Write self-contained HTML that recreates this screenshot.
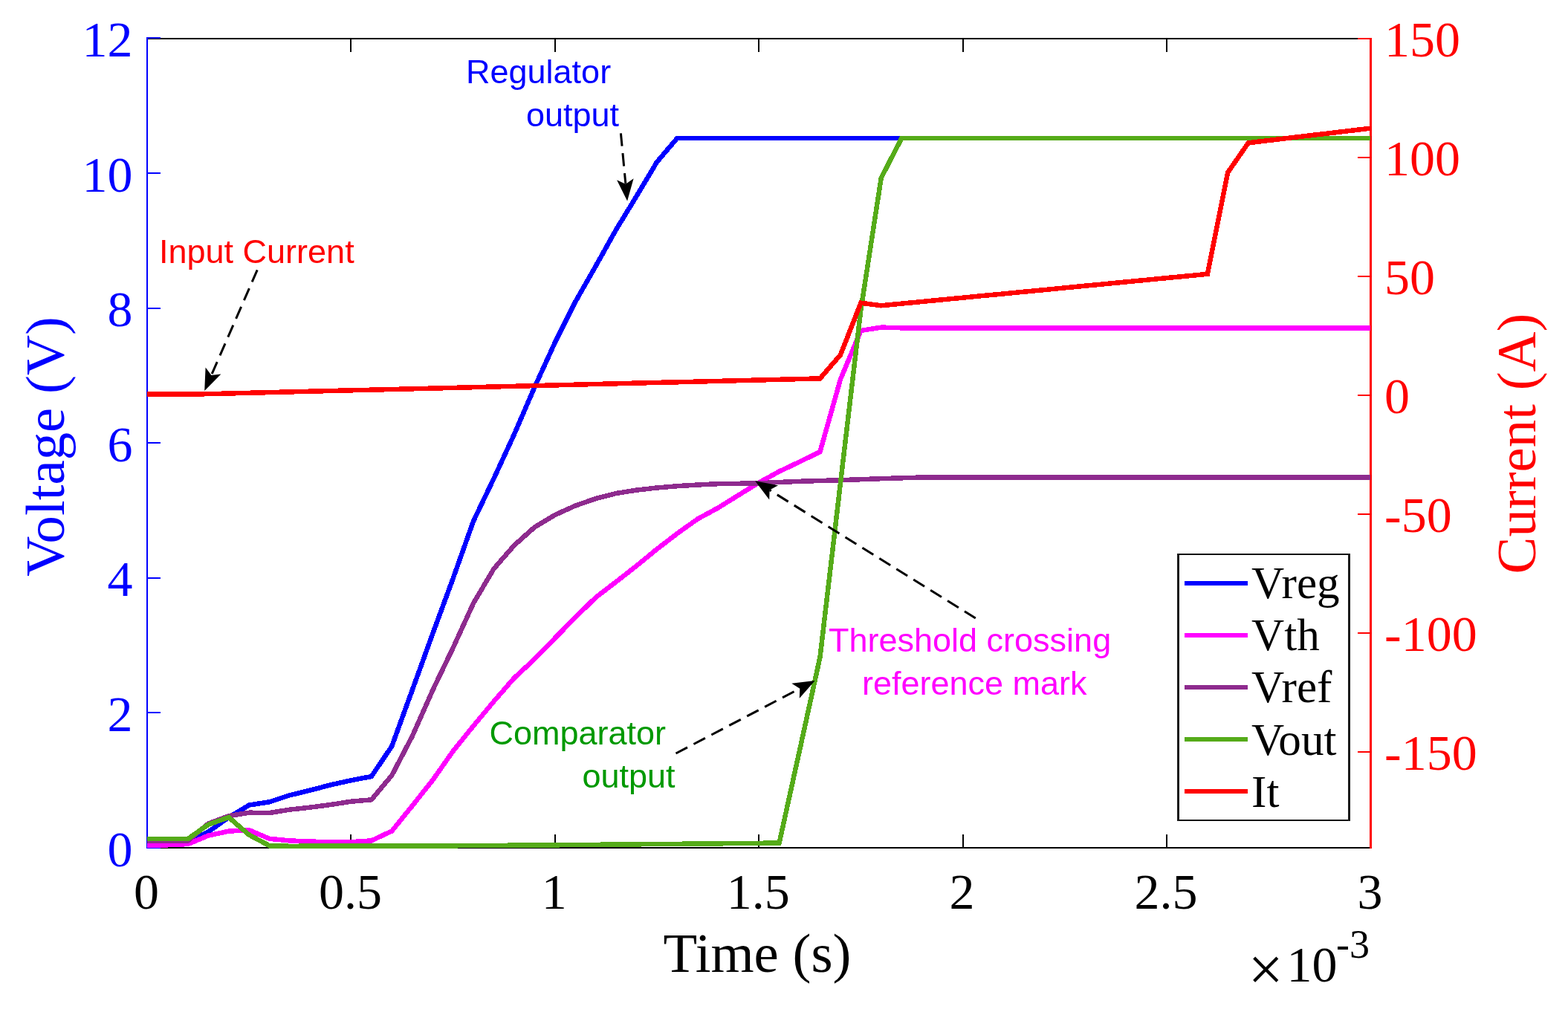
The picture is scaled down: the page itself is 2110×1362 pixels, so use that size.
<!DOCTYPE html><html><head><meta charset="utf-8"><style>html,body{margin:0;padding:0;background:#fff}svg{display:block}</style></head><body><svg width="2110" height="1362" viewBox="0 0 2110 1362">
<rect width="2110" height="1362" fill="#fff"/>
<defs><clipPath id="c"><rect x="198" y="51" width="1647" height="1091"/></clipPath></defs>
<g shape-rendering="crispEdges">
<rect x="197" y="51" width="1648" height="2" fill="#000"/>
<rect x="197" y="1140" width="1648" height="2" fill="#000"/>
<rect x="471.4" y="1123" width="2" height="17" fill="#000"/>
<rect x="471.4" y="53" width="2" height="17" fill="#000"/>
<rect x="745.8" y="1123" width="2" height="17" fill="#000"/>
<rect x="745.8" y="53" width="2" height="17" fill="#000"/>
<rect x="1020.2" y="1123" width="2" height="17" fill="#000"/>
<rect x="1020.2" y="53" width="2" height="17" fill="#000"/>
<rect x="1294.6" y="1123" width="2" height="17" fill="#000"/>
<rect x="1294.6" y="53" width="2" height="17" fill="#000"/>
<rect x="1569.0" y="1123" width="2" height="17" fill="#000"/>
<rect x="1569.0" y="53" width="2" height="17" fill="#000"/>
<rect x="197" y="51" width="2" height="1091" fill="#0000ff"/>
<rect x="197" y="1140.0" width="19" height="2" fill="#0000ff"/>
<rect x="197" y="958.4" width="19" height="2" fill="#0000ff"/>
<rect x="197" y="776.8" width="19" height="2" fill="#0000ff"/>
<rect x="197" y="595.2" width="19" height="2" fill="#0000ff"/>
<rect x="197" y="413.6" width="19" height="2" fill="#0000ff"/>
<rect x="197" y="232.0" width="19" height="2" fill="#0000ff"/>
<rect x="197" y="50.4" width="19" height="2" fill="#0000ff"/>
</g>
<g shape-rendering="crispEdges">
<rect x="1843" y="51" width="3" height="1091" fill="#ff0000"/>
<rect x="1827" y="1011.0" width="17" height="2" fill="#ff0000"/>
<rect x="1827" y="851.0" width="17" height="2" fill="#ff0000"/>
<rect x="1827" y="691.0" width="17" height="2" fill="#ff0000"/>
<rect x="1827" y="531.0" width="17" height="2" fill="#ff0000"/>
<rect x="1827" y="371.0" width="17" height="2" fill="#ff0000"/>
<rect x="1827" y="211.0" width="17" height="2" fill="#ff0000"/>
<rect x="1827" y="51.0" width="17" height="2" fill="#ff0000"/>
<rect x="1827" y="51" width="17" height="2" fill="#ff0000"/>
</g>
<g clip-path="url(#c)" fill="none" stroke-width="6.5" stroke-linejoin="miter" stroke-miterlimit="10" shape-rendering="crispEdges">
<polyline stroke="#0000ff" points="198.0,1137.0 225.4,1137.0 252.9,1132.5 280.3,1119.6 307.8,1100.0 335.2,1083.5 362.6,1079.3 390.1,1070.2 417.5,1063.6 445.0,1056.3 472.4,1050.3 499.8,1045.0 527.3,1004.3 554.7,929.0 582.2,853.0 609.6,778.6 637.0,701.5 664.5,644.0 691.9,584.7 719.4,521.0 746.8,461.0 774.2,406.3 801.7,358.0 829.1,309.0 856.6,264.0 884.0,218.0 911.4,185.8 938.9,185.8 966.3,185.8 993.8,185.8 1021.2,185.8 1048.6,185.8 1076.1,185.8 1103.5,185.8 1131.0,185.8 1158.4,185.8 1185.8,185.8 1213.3,185.8 1240.7,185.8 1268.2,185.8 1295.6,185.8 1323.0,185.8 1350.5,185.8 1377.9,185.8 1405.4,185.8 1432.8,185.8 1460.2,185.8 1487.7,185.8 1515.1,185.8 1542.6,185.8 1570.0,185.8 1597.4,185.8 1624.9,185.8 1652.3,185.8 1679.8,185.8 1707.2,185.8 1734.6,185.8 1762.1,185.8 1789.5,185.8 1817.0,185.8 1844.4,185.8"/>
<polyline stroke="#ff00ff" points="198.0,1137.3 225.4,1137.3 252.9,1136.0 280.3,1124.6 307.8,1118.6 335.2,1117.2 362.6,1128.8 390.1,1131.4 417.5,1132.6 445.0,1133.2 472.4,1133.2 499.8,1131.4 527.3,1118.5 554.7,1084.6 582.2,1050.0 609.6,1011.0 637.0,977.0 664.5,944.0 691.9,912.5 719.4,887.0 746.8,858.8 774.2,831.0 801.7,804.0 829.1,783.0 856.6,761.5 884.0,739.0 911.4,718.0 938.9,698.4 966.3,683.5 993.8,666.4 1021.2,649.5 1048.6,634.5 1076.1,621.5 1103.5,608.0 1131.0,510.4 1158.4,445.0 1185.8,440.6 1213.3,441.3 1240.7,441.3 1268.2,441.3 1295.6,441.3 1323.0,441.3 1350.5,441.3 1377.9,441.4 1405.4,441.4 1432.8,441.4 1460.2,441.4 1487.7,441.4 1515.1,441.4 1542.6,441.4 1570.0,441.4 1597.4,441.4 1624.9,441.4 1652.3,441.4 1679.8,441.4 1707.2,441.5 1734.6,441.5 1762.1,441.5 1789.5,441.5 1817.0,441.5 1844.4,441.5"/>
<polyline stroke="#8e2b8e" points="198.0,1131.7 225.4,1131.7 252.9,1131.5 280.3,1108.5 307.8,1098.2 335.2,1093.7 362.6,1094.0 390.1,1089.6 417.5,1086.6 445.0,1083.0 472.4,1078.7 499.8,1076.3 527.3,1043.5 554.7,991.0 582.2,929.0 609.6,872.0 637.0,812.0 664.5,765.5 691.9,734.0 719.4,709.5 746.8,693.0 774.2,680.6 801.7,671.0 829.1,664.0 856.6,659.6 884.0,656.5 911.4,654.2 938.9,652.5 966.3,651.2 993.8,650.8 1021.2,650.3 1048.6,649.0 1076.1,647.8 1103.5,647.0 1131.0,646.2 1158.4,645.2 1185.8,644.2 1213.3,643.3 1240.7,642.5 1268.2,642.5 1295.6,642.5 1323.0,642.5 1350.5,642.5 1377.9,642.5 1405.4,642.5 1432.8,642.5 1460.2,642.5 1487.7,642.5 1515.1,642.5 1542.6,642.5 1570.0,642.4 1597.4,642.4 1624.9,642.4 1652.3,642.4 1679.8,642.4 1707.2,642.4 1734.6,642.4 1762.1,642.4 1789.5,642.4 1817.0,642.4 1844.4,642.4"/>
<polyline stroke="#55ab19" points="198.0,1129.0 225.4,1129.0 252.9,1129.0 280.3,1109.7 307.8,1100.0 335.2,1123.6 362.6,1138.3 390.1,1138.8 417.5,1138.7 445.0,1138.7 472.4,1138.6 499.8,1138.5 527.3,1138.5 554.7,1138.4 582.2,1138.4 609.6,1138.3 637.0,1138.1 664.5,1137.9 691.9,1137.7 719.4,1137.5 746.8,1137.3 774.2,1137.1 801.7,1136.8 829.1,1136.6 856.6,1136.3 884.0,1136.1 911.4,1135.8 938.9,1135.6 966.3,1135.3 993.8,1135.1 1021.2,1134.8 1048.6,1134.6 1076.1,1009.5 1103.5,884.4 1131.0,650.0 1158.4,417.0 1185.8,239.3 1213.3,186.0 1240.7,186.0 1268.2,186.0 1295.6,186.0 1323.0,186.0 1350.5,186.0 1377.9,186.0 1405.4,186.0 1432.8,186.0 1460.2,186.0 1487.7,186.0 1515.1,186.0 1542.6,186.0 1570.0,186.0 1597.4,186.0 1624.9,186.0 1652.3,186.0 1679.8,186.0 1707.2,186.0 1734.6,186.0 1762.1,186.0 1789.5,186.0 1817.0,186.0 1844.4,186.0"/>
</g>
<g clip-path="url(#c)" fill="none" stroke-width="6.5" shape-rendering="crispEdges"><polyline stroke="#ff0000" points="198.0,530.6 225.4,530.5 252.9,530.5 280.3,530.2 307.8,529.5 335.2,528.8 362.6,528.1 390.1,527.4 417.5,526.7 445.0,526.0 472.4,525.3 499.8,524.7 527.3,524.0 554.7,523.3 582.2,522.6 609.6,521.9 637.0,521.2 664.5,520.5 691.9,519.8 719.4,519.1 746.8,518.4 774.2,517.7 801.7,517.0 829.1,516.3 856.6,515.6 884.0,514.9 911.4,514.3 938.9,513.6 966.3,512.9 993.8,512.2 1021.2,511.5 1048.6,510.8 1076.1,510.1 1103.5,509.4 1131.0,477.5 1158.4,407.7 1185.8,411.3 1213.3,408.6 1240.7,406.0 1268.2,403.3 1295.6,400.7 1323.0,398.0 1350.5,395.4 1377.9,392.7 1405.4,390.1 1432.8,387.4 1460.2,384.7 1487.7,382.1 1515.1,379.4 1542.6,376.8 1570.0,374.1 1597.4,371.5 1624.9,368.8 1652.3,232.0 1679.8,192.3 1707.2,189.0 1734.6,185.7 1762.1,182.4 1789.5,179.2 1817.0,175.9 1844.4,172.6"/></g>
<text id="yl0" font-family="Liberation Serif, Times New Roman, serif" font-size="68" fill="#0000ff" text-anchor="end" x="178.50" y="1165.50">0</text>
<text id="yl2" font-family="Liberation Serif, Times New Roman, serif" font-size="68" fill="#0000ff" text-anchor="end" x="178.50" y="983.90">2</text>
<text id="yl4" font-family="Liberation Serif, Times New Roman, serif" font-size="68" fill="#0000ff" text-anchor="end" x="178.50" y="802.30">4</text>
<text id="yl6" font-family="Liberation Serif, Times New Roman, serif" font-size="68" fill="#0000ff" text-anchor="end" x="178.50" y="620.70">6</text>
<text id="yl8" font-family="Liberation Serif, Times New Roman, serif" font-size="68" fill="#0000ff" text-anchor="end" x="178.50" y="439.10">8</text>
<text id="yl10" font-family="Liberation Serif, Times New Roman, serif" font-size="68" fill="#0000ff" text-anchor="end" x="178.50" y="257.50">10</text>
<text id="yl12" font-family="Liberation Serif, Times New Roman, serif" font-size="68" fill="#0000ff" text-anchor="end" x="178.50" y="75.90">12</text>
<text id="yr-150" font-family="Liberation Serif, Times New Roman, serif" font-size="68" fill="#ff0000" text-anchor="start" x="1863.00" y="1036.00">-150</text>
<text id="yr-100" font-family="Liberation Serif, Times New Roman, serif" font-size="68" fill="#ff0000" text-anchor="start" x="1863.00" y="876.00">-100</text>
<text id="yr-50" font-family="Liberation Serif, Times New Roman, serif" font-size="68" fill="#ff0000" text-anchor="start" x="1863.00" y="716.00">-50</text>
<text id="yr0" font-family="Liberation Serif, Times New Roman, serif" font-size="68" fill="#ff0000" text-anchor="start" x="1863.00" y="556.00">0</text>
<text id="yr50" font-family="Liberation Serif, Times New Roman, serif" font-size="68" fill="#ff0000" text-anchor="start" x="1863.00" y="396.00">50</text>
<text id="yr100" font-family="Liberation Serif, Times New Roman, serif" font-size="68" fill="#ff0000" text-anchor="start" x="1863.00" y="236.00">100</text>
<text id="yr150" font-family="Liberation Serif, Times New Roman, serif" font-size="68" fill="#ff0000" text-anchor="start" x="1863.00" y="76.00">150</text>
<text id="xl0.0" font-family="Liberation Serif, Times New Roman, serif" font-size="68" fill="#000" text-anchor="middle" x="197.00" y="1223.00">0</text>
<text id="xl0.5" font-family="Liberation Serif, Times New Roman, serif" font-size="68" fill="#000" text-anchor="middle" x="471.40" y="1223.00">0.5</text>
<text id="xl1.0" font-family="Liberation Serif, Times New Roman, serif" font-size="68" fill="#000" text-anchor="middle" x="745.80" y="1223.00">1</text>
<text id="xl1.5" font-family="Liberation Serif, Times New Roman, serif" font-size="68" fill="#000" text-anchor="middle" x="1020.20" y="1223.00">1.5</text>
<text id="xl2.0" font-family="Liberation Serif, Times New Roman, serif" font-size="68" fill="#000" text-anchor="middle" x="1294.60" y="1223.00">2</text>
<text id="xl2.5" font-family="Liberation Serif, Times New Roman, serif" font-size="68" fill="#000" text-anchor="middle" x="1569.00" y="1223.00">2.5</text>
<text id="xl3.0" font-family="Liberation Serif, Times New Roman, serif" font-size="68" fill="#000" text-anchor="middle" x="1843.40" y="1223.00">3</text>
<text id="xlabel" font-family="Liberation Serif, Times New Roman, serif" font-size="74.8" fill="#000" text-anchor="middle" x="1019.00" y="1308.00">Time (s)</text>
<text id="ylabel" font-family="Liberation Serif, Times New Roman, serif" font-size="74.8" fill="#0000ff" text-anchor="middle" transform="translate(86.00,601.00) rotate(-90) scale(1.0,1.0)">Voltage (V)</text>
<text id="y2label" font-family="Liberation Serif, Times New Roman, serif" font-size="74.8" fill="#ff0000" text-anchor="middle" transform="translate(2065.50,597.00) rotate(-90) scale(1.0,1.0)">Current (A)</text>
<text id="xtimes" font-family="Liberation Serif, Times New Roman, serif" font-size="84" fill="#000" text-anchor="start" x="1679.60" y="1333.00">×</text>
<text id="xten" font-family="Liberation Serif, Times New Roman, serif" font-size="68" fill="#000" text-anchor="start" x="1731.50" y="1321.00">10</text>
<text id="xexp" font-family="Liberation Serif, Times New Roman, serif" font-size="54" fill="#000" text-anchor="start" x="1798.00" y="1289.00">-3</text>
<g shape-rendering="crispEdges">
<rect x="1585" y="746" width="230" height="358" fill="#fff"/>
<rect x="1584" y="745" width="233" height="2" fill="#111"/>
<rect x="1584" y="1103" width="233" height="2" fill="#111"/>
<rect x="1584" y="745" width="3" height="360" fill="#1a1a1a"/>
<rect x="1814" y="745" width="3" height="360" fill="#1a1a1a"/>
</g>
<line x1="1594" y1="784.5" x2="1679" y2="784.5" stroke="#0000ff" stroke-width="6" shape-rendering="crispEdges"/>
<text id="lgVreg" font-family="Liberation Serif, Times New Roman, serif" font-size="61.2" fill="#000" text-anchor="start" x="1684.00" y="805.00">Vreg</text>
<line x1="1594" y1="854.7" x2="1679" y2="854.7" stroke="#ff00ff" stroke-width="6" shape-rendering="crispEdges"/>
<text id="lgVth" font-family="Liberation Serif, Times New Roman, serif" font-size="61.2" fill="#000" text-anchor="start" x="1684.00" y="875.20">Vth</text>
<line x1="1594" y1="924.9" x2="1679" y2="924.9" stroke="#8e2b8e" stroke-width="6" shape-rendering="crispEdges"/>
<text id="lgVref" font-family="Liberation Serif, Times New Roman, serif" font-size="61.2" fill="#000" text-anchor="start" x="1684.00" y="945.40">Vref</text>
<line x1="1594" y1="995.1" x2="1679" y2="995.1" stroke="#55ab19" stroke-width="6" shape-rendering="crispEdges"/>
<text id="lgVout" font-family="Liberation Serif, Times New Roman, serif" font-size="61.2" fill="#000" text-anchor="start" x="1684.00" y="1015.60">Vout</text>
<line x1="1594" y1="1065.3" x2="1679" y2="1065.3" stroke="#ff0000" stroke-width="6" shape-rendering="crispEdges"/>
<text id="lgIt" font-family="Liberation Serif, Times New Roman, serif" font-size="61.2" fill="#000" text-anchor="start" x="1684.00" y="1085.80">It</text>
<text id="t_reg1" font-family="Liberation Sans, Arial, sans-serif" font-size="45" fill="#0000ff" text-anchor="start" x="627.00" y="112.00">Regulator</text>
<text id="t_reg2" font-family="Liberation Sans, Arial, sans-serif" font-size="45" fill="#0000ff" text-anchor="start" x="708.00" y="170.00">output</text>
<text id="t_inp" font-family="Liberation Sans, Arial, sans-serif" font-size="45" fill="#ff0000" text-anchor="start" x="214.00" y="353.60">Input Current</text>
<text id="t_cmp1" font-family="Liberation Sans, Arial, sans-serif" font-size="45" fill="#009900" text-anchor="start" x="658.50" y="1002.00">Comparator</text>
<text id="t_cmp2" font-family="Liberation Sans, Arial, sans-serif" font-size="45" fill="#009900" text-anchor="start" x="783.50" y="1060.00">output</text>
<text id="t_thr1" font-family="Liberation Sans, Arial, sans-serif" font-size="45" fill="#ff00ff" text-anchor="start" x="1115.00" y="876.60">Threshold crossing</text>
<text id="t_thr2" font-family="Liberation Sans, Arial, sans-serif" font-size="45" fill="#ff00ff" text-anchor="start" x="1160.00" y="935.00">reference mark</text>
<line x1="835.4" y1="179.3" x2="841.9" y2="247.7" stroke="#000" stroke-width="3" stroke-dasharray="17.5 9.5"/><polygon points="844.1,270.6 830.1,242.3 841.9,247.7 852.6,240.2" fill="#000"/>
<line x1="346.2" y1="363.3" x2="284.4" y2="504.9" stroke="#000" stroke-width="3" stroke-dasharray="17.5 9.5"/><polygon points="275.2,526.0 276.6,494.4 284.4,504.9 297.4,503.5" fill="#000"/>
<line x1="909.5" y1="1014.0" x2="1076.3" y2="926.7" stroke="#000" stroke-width="3" stroke-dasharray="17.5 9.5"/><polygon points="1096.7,916.0 1075.8,939.7 1076.3,926.7 1065.3,919.7" fill="#000"/>
<line x1="1312.8" y1="832.1" x2="1035.6" y2="659.5" stroke="#000" stroke-width="3" stroke-dasharray="17.5 9.5"/><polygon points="1016.1,647.3 1047.1,653.3 1035.6,659.5 1035.2,672.5" fill="#000"/>
</svg></body></html>
